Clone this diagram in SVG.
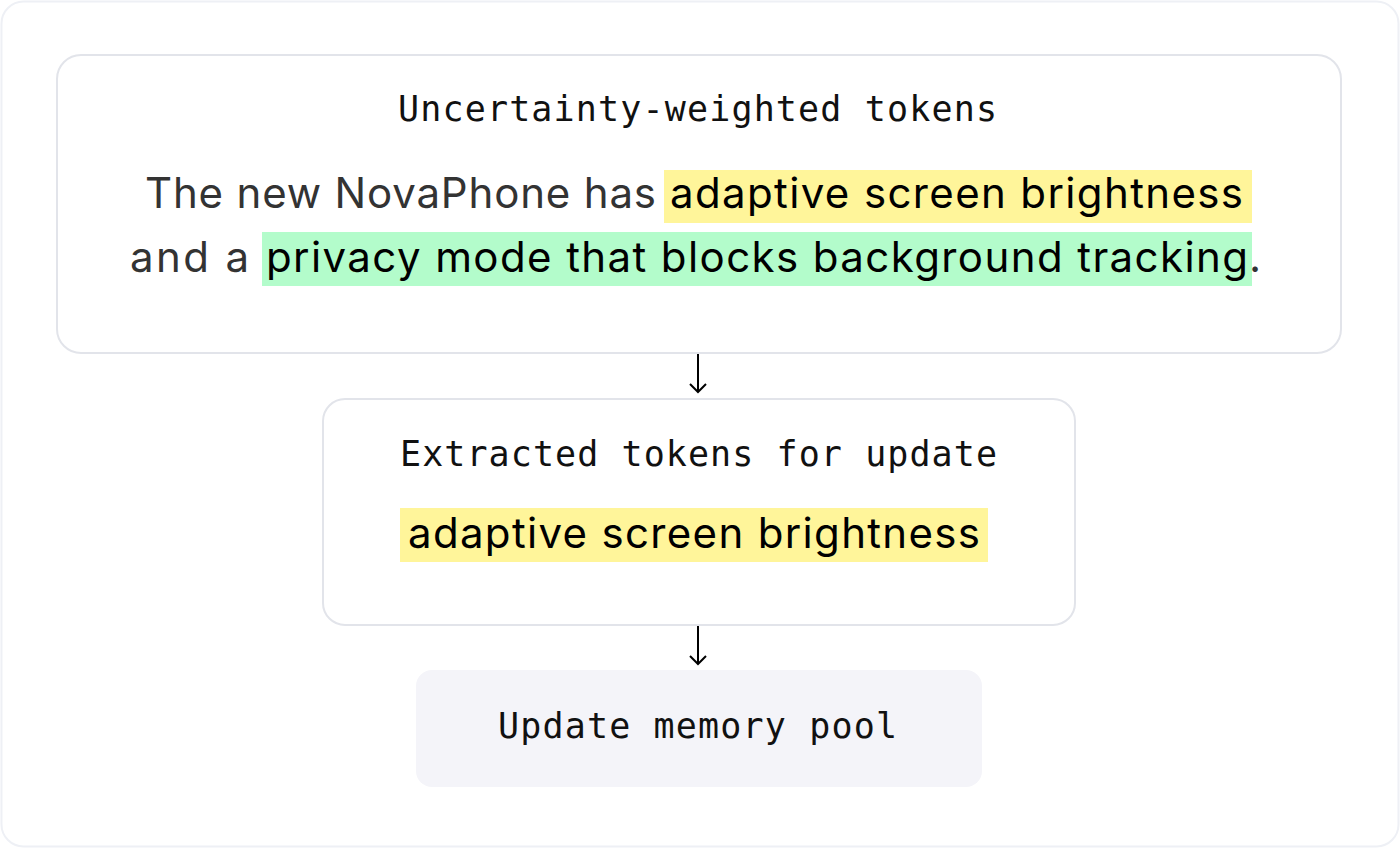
<svg xmlns="http://www.w3.org/2000/svg" width="1400" height="848" viewBox="0 0 1400 848">
<defs>
<style>
.frame{fill:#ffffff;stroke:#eef0f5;stroke-width:2}
.box{fill:#ffffff;stroke:#e2e4ea;stroke-width:2}
.mono{font-family:"DejaVu Sans Mono","Liberation Mono",monospace;font-size:35px;fill:#111111}
.sans{font-family:Inter,"Noto Sans","Liberation Sans",sans-serif;font-size:42px}
.plain{fill:#333333}
.hl{fill:#000000}
.yel{fill:#fff59a}
.grn{fill:#b3fccb}
.conn{stroke:#000000;stroke-width:2;fill:none}
</style>
<marker id="arr" markerWidth="20" markerHeight="20" refX="10" refY="10" orient="auto" markerUnits="userSpaceOnUse">
<path d="M2,2 L10,10 L2,18" fill="none" stroke="#000000" stroke-width="2"/>
</marker>
</defs>
<rect class="frame" x="1.5" y="1.5" width="1397" height="845" rx="22"/>
<g id="node-uncertainty">
<rect class="box" x="57" y="55" width="1284" height="298" rx="24"/>
<text class="mono" x="398" y="121" textLength="599" lengthAdjust="spacing">Uncertainty-weighted tokens</text>
<rect class="yel" x="664" y="170" width="588" height="53"/>
<rect class="grn" x="262" y="232" width="990" height="54"/>
<text class="sans plain" x="145" y="208" textLength="511" lengthAdjust="spacing">The new NovaPhone has</text>
<text class="sans hl" x="670" y="208" textLength="573" lengthAdjust="spacing">adaptive screen brightness</text>
<text class="sans plain" x="130" y="272" textLength="119" lengthAdjust="spacing">and a</text>
<text class="sans hl" x="266" y="272" textLength="982" lengthAdjust="spacing">privacy mode that blocks background tracking</text>
<text class="sans plain" x="1249" y="272">.</text>
</g>
<g id="node-extracted">
<rect class="box" x="323" y="399" width="752" height="226" rx="22"/>
<text class="mono" x="400" y="466" textLength="597" lengthAdjust="spacing">Extracted tokens for update</text>
<rect class="yel" x="400" y="508" width="588" height="54"/>
<text class="sans hl" x="408" y="548" textLength="572" lengthAdjust="spacing">adaptive screen brightness</text>
</g>
<g id="node-update">
<rect x="416" y="670" width="566" height="117" rx="16" fill="#f4f4f9"/>
<text class="mono" x="498" y="738" textLength="399" lengthAdjust="spacing">Update memory pool</text>
</g>
<g id="connectors">
<line class="conn" x1="698" y1="354" x2="698" y2="392" marker-end="url(#arr)"/>
<line class="conn" x1="698" y1="626" x2="698" y2="664" marker-end="url(#arr)"/>
</g>
</svg>
